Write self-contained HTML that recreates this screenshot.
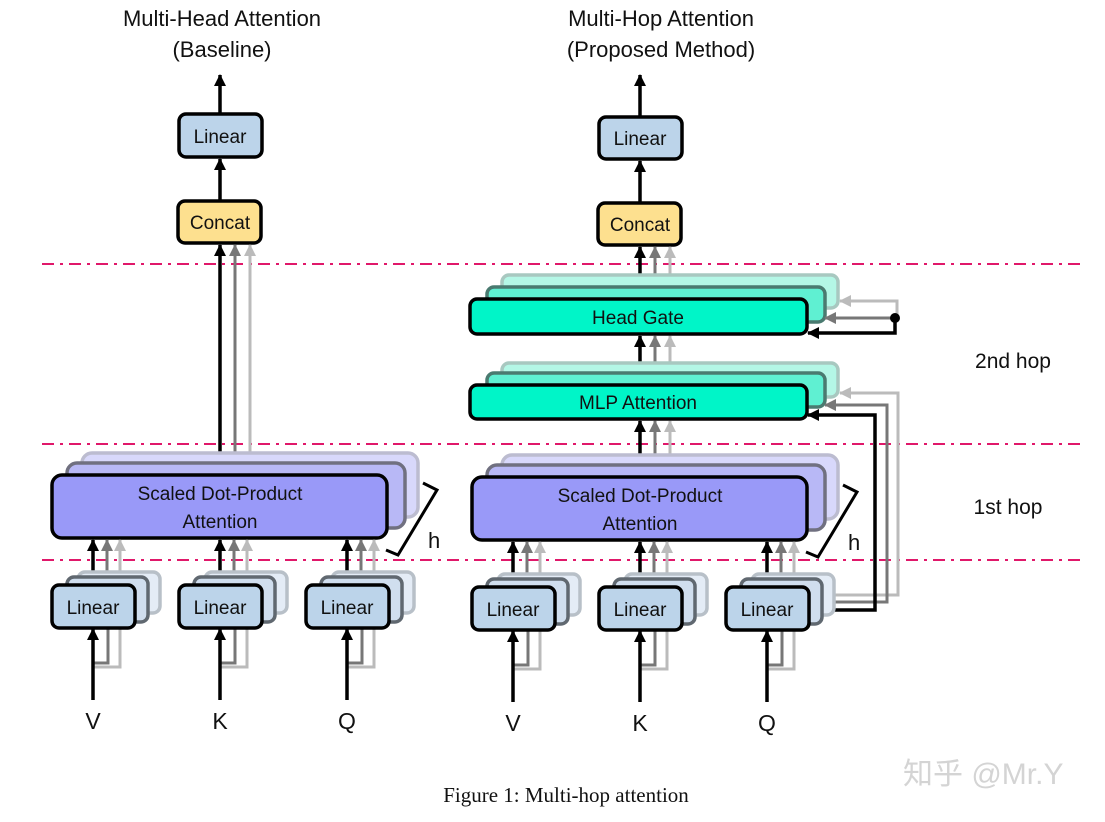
<!DOCTYPE html>
<html><head><meta charset="utf-8"><style>
html,body{margin:0;padding:0;background:#fff;}
svg{display:block;}
text{font-family:"Liberation Sans",sans-serif;fill:#111;}
</style></head><body>
<svg width="1105" height="822" viewBox="0 0 1105 822" xmlns="http://www.w3.org/2000/svg">
<defs>
<marker id="ab" markerWidth="12" markerHeight="12" refX="11" refY="6" orient="auto" markerUnits="userSpaceOnUse" viewBox="0 0 12 12"><path d="M0,0 L12,6 L0,12 Z" fill="#000"/></marker>
<marker id="ad" markerWidth="12" markerHeight="12" refX="11" refY="6" orient="auto" markerUnits="userSpaceOnUse" viewBox="0 0 12 12"><path d="M0,0 L12,6 L0,12 Z" fill="#777"/></marker>
<marker id="al" markerWidth="12" markerHeight="12" refX="11" refY="6" orient="auto" markerUnits="userSpaceOnUse" viewBox="0 0 12 12"><path d="M0,0 L12,6 L0,12 Z" fill="#bbb"/></marker>
</defs>

<text x="222" y="26" font-size="22" text-anchor="middle">Multi-Head Attention</text>
<text x="222" y="57" font-size="22" text-anchor="middle">(Baseline)</text>
<text x="661" y="26" font-size="22" text-anchor="middle">Multi-Hop Attention</text>
<text x="661" y="57" font-size="22" text-anchor="middle">(Proposed Method)</text>

<g stroke="#e0186a" stroke-width="2" stroke-dasharray="12,6,3,6">
<line x1="42" y1="264" x2="1085" y2="264"/>
<line x1="42" y1="444" x2="1085" y2="444"/>
<line x1="42" y1="560" x2="1085" y2="560"/>
</g>

<g stroke-width="3.5" fill="none">
<line x1="220" y1="114" x2="220" y2="75" stroke="#000" marker-end="url(#ab)"/>
<line x1="220" y1="201" x2="220" y2="159" stroke="#000" marker-end="url(#ab)"/>
<line x1="640" y1="117" x2="640" y2="75" stroke="#000" marker-end="url(#ab)"/>
<line x1="640" y1="203" x2="640" y2="161" stroke="#000" marker-end="url(#ab)"/>
</g>
<g stroke="#000" stroke-width="3.5">
<rect x="179" y="114" width="83" height="43" rx="7" fill="#bcd4ea"/>
<rect x="178" y="201" width="83" height="42" rx="7" fill="#fde08f"/>
<rect x="599" y="117" width="83" height="42" rx="7" fill="#bcd4ea"/>
<rect x="598" y="203" width="83" height="42" rx="7" fill="#fde08f"/>
</g>
<text x="220" y="143" font-size="19" text-anchor="middle">Linear</text>
<text x="220" y="229" font-size="19" text-anchor="middle">Concat</text>
<text x="640" y="145" font-size="19" text-anchor="middle">Linear</text>
<text x="640" y="231" font-size="19" text-anchor="middle">Concat</text>

<g stroke-width="3" fill="none">
<line x1="250" y1="453" x2="250" y2="245" stroke="#bbb" marker-end="url(#al)"/>
<line x1="235" y1="463" x2="235" y2="245" stroke="#777" marker-end="url(#ad)"/>
<line x1="220" y1="475" x2="220" y2="245" stroke="#000" stroke-width="3.5" marker-end="url(#ab)"/>
</g>
<rect x="82" y="453" width="336" height="64" rx="10" fill="#d8d8fb" stroke="#bcbcd0" stroke-width="3.5"/>
<rect x="67" y="463" width="338" height="65" rx="10" fill="#b8b8f6" stroke="#707080" stroke-width="3.5"/>
<rect x="52" y="475" width="335" height="63" rx="10" fill="#9999f8" stroke="#000" stroke-width="3.5"/>
<text x="220" y="500" font-size="19" text-anchor="middle">Scaled Dot-Product</text>
<text x="220" y="528" font-size="19" text-anchor="middle">Attention</text>
<polyline points="423,483 437,490 398,555 386,550" fill="none" stroke="#000" stroke-width="3"/>
<text x="428" y="548" font-size="22">h</text>

<g stroke-width="3" fill="none">
<line x1="670" y1="275" x2="670" y2="247" stroke="#bbb" marker-end="url(#al)"/>
<line x1="655" y1="287" x2="655" y2="247" stroke="#777" marker-end="url(#ad)"/>
<line x1="640" y1="299" x2="640" y2="247" stroke="#000" stroke-width="3.5" marker-end="url(#ab)"/>
<line x1="670" y1="363" x2="670" y2="336" stroke="#bbb" marker-end="url(#al)"/>
<line x1="655" y1="373" x2="655" y2="336" stroke="#777" marker-end="url(#ad)"/>
<line x1="640" y1="385" x2="640" y2="336" stroke="#000" stroke-width="3.5" marker-end="url(#ab)"/>
<line x1="670" y1="455" x2="670" y2="421" stroke="#bbb" marker-end="url(#al)"/>
<line x1="655" y1="465" x2="655" y2="421" stroke="#777" marker-end="url(#ad)"/>
<line x1="640" y1="477" x2="640" y2="421" stroke="#000" stroke-width="3.5" marker-end="url(#ab)"/>
</g>
<rect x="502" y="275" width="336" height="33" rx="7" fill="#b4f7e6" stroke="#a8c8c0" stroke-width="3.5"/>
<rect x="487" y="287" width="338" height="35" rx="7" fill="#5ff0d2" stroke="#4a7a70" stroke-width="3.5"/>
<rect x="470" y="299" width="337" height="35" rx="7" fill="#00f5c8" stroke="#000" stroke-width="3.5"/>
<text x="638" y="324" font-size="19" text-anchor="middle">Head Gate</text>
<rect x="502" y="363" width="336" height="34" rx="7" fill="#b4f7e6" stroke="#a8c8c0" stroke-width="3.5"/>
<rect x="487" y="373" width="338" height="34" rx="7" fill="#5ff0d2" stroke="#4a7a70" stroke-width="3.5"/>
<rect x="470" y="385" width="337" height="34" rx="7" fill="#00f5c8" stroke="#000" stroke-width="3.5"/>
<text x="638" y="409" font-size="19" text-anchor="middle">MLP Attention</text>

<rect x="502" y="455" width="336" height="64" rx="10" fill="#d8d8fb" stroke="#bcbcd0" stroke-width="3.5"/>
<rect x="487" y="465" width="338" height="65" rx="10" fill="#b8b8f6" stroke="#707080" stroke-width="3.5"/>
<rect x="472" y="477" width="335" height="63" rx="10" fill="#9999f8" stroke="#000" stroke-width="3.5"/>
<text x="640" y="502" font-size="19" text-anchor="middle">Scaled Dot-Product</text>
<text x="640" y="530" font-size="19" text-anchor="middle">Attention</text>
<polyline points="843,485 857,492 818,557 806,552" fill="none" stroke="#000" stroke-width="3"/>
<text x="848" y="550" font-size="22">h</text>

<g stroke-width="3" fill="none">
<polyline points="820,595 898,595 898,393 840,393" stroke="#bbb" marker-end="url(#al)"/>
<polyline points="820,602 887,602 887,405 825,405" stroke="#777" marker-end="url(#ad)"/>
<polyline points="808,610 875,610 875,415 808,415" stroke="#000" stroke-width="3.5" marker-end="url(#ab)"/>
<polyline points="897,318 897,301 840,301" stroke="#bbb" marker-end="url(#al)"/>
<polyline points="895,318 825,318" stroke="#777" marker-end="url(#ad)"/>
<polyline points="895,318 895,333 808,333" stroke="#000" stroke-width="3.5" marker-end="url(#ab)"/>
</g>
<circle cx="895" cy="318" r="5" fill="#000"/>

<g stroke-width="3" fill="none">
<polyline points="93,663 108,663 108,622" stroke="#777"/><polyline points="93,667 120,667 120,614" stroke="#bbb"/>
<polyline points="220,663 235,663 235,622" stroke="#777"/><polyline points="220,667 247,667 247,614" stroke="#bbb"/>
<polyline points="347,663 362,663 362,622" stroke="#777"/><polyline points="347,667 374,667 374,614" stroke="#bbb"/>
<polyline points="513,665 528,665 528,624" stroke="#777"/><polyline points="513,669 540,669 540,616" stroke="#bbb"/>
<polyline points="640,665 655,665 655,624" stroke="#777"/><polyline points="640,669 667,669 667,616" stroke="#bbb"/>
<polyline points="767,665 782,665 782,624" stroke="#777"/><polyline points="767,669 794,669 794,616" stroke="#bbb"/>
<g stroke="#000" stroke-width="3.5">
<line x1="93" y1="700" x2="93" y2="629" marker-end="url(#ab)"/>
<line x1="220" y1="700" x2="220" y2="629" marker-end="url(#ab)"/>
<line x1="347" y1="700" x2="347" y2="629" marker-end="url(#ab)"/>
<line x1="513" y1="702" x2="513" y2="631" marker-end="url(#ab)"/>
<line x1="640" y1="702" x2="640" y2="631" marker-end="url(#ab)"/>
<line x1="767" y1="702" x2="767" y2="631" marker-end="url(#ab)"/>
</g>
<line x1="120" y1="572" x2="120" y2="540" stroke="#bbb" marker-end="url(#al)"/><line x1="107" y1="577" x2="107" y2="540" stroke="#777" marker-end="url(#ad)"/><line x1="93" y1="585" x2="93" y2="540" stroke="#000" stroke-width="3.5" marker-end="url(#ab)"/>
<line x1="247" y1="572" x2="247" y2="540" stroke="#bbb" marker-end="url(#al)"/><line x1="234" y1="577" x2="234" y2="540" stroke="#777" marker-end="url(#ad)"/><line x1="220" y1="585" x2="220" y2="540" stroke="#000" stroke-width="3.5" marker-end="url(#ab)"/>
<line x1="374" y1="572" x2="374" y2="540" stroke="#bbb" marker-end="url(#al)"/><line x1="361" y1="577" x2="361" y2="540" stroke="#777" marker-end="url(#ad)"/><line x1="347" y1="585" x2="347" y2="540" stroke="#000" stroke-width="3.5" marker-end="url(#ab)"/>
<line x1="540" y1="574" x2="540" y2="542" stroke="#bbb" marker-end="url(#al)"/><line x1="527" y1="579" x2="527" y2="542" stroke="#777" marker-end="url(#ad)"/><line x1="513" y1="587" x2="513" y2="542" stroke="#000" stroke-width="3.5" marker-end="url(#ab)"/>
<line x1="667" y1="574" x2="667" y2="542" stroke="#bbb" marker-end="url(#al)"/><line x1="654" y1="579" x2="654" y2="542" stroke="#777" marker-end="url(#ad)"/><line x1="640" y1="587" x2="640" y2="542" stroke="#000" stroke-width="3.5" marker-end="url(#ab)"/>
<line x1="794" y1="574" x2="794" y2="542" stroke="#bbb" marker-end="url(#al)"/><line x1="781" y1="579" x2="781" y2="542" stroke="#777" marker-end="url(#ad)"/><line x1="767" y1="587" x2="767" y2="542" stroke="#000" stroke-width="3.5" marker-end="url(#ab)"/>
</g>

<g stroke-width="3.5">
<rect x="78" y="572" width="82" height="41" rx="7" fill="#e4ecf6" stroke="#b8c0c8"/>
<rect x="67" y="577" width="81" height="45" rx="7" fill="#d0deee" stroke="#606870"/>
<rect x="52" y="585" width="83" height="43" rx="7" fill="#bcd4ea" stroke="#000"/>
<rect x="205" y="572" width="82" height="41" rx="7" fill="#e4ecf6" stroke="#b8c0c8"/>
<rect x="194" y="577" width="81" height="45" rx="7" fill="#d0deee" stroke="#606870"/>
<rect x="179" y="585" width="83" height="43" rx="7" fill="#bcd4ea" stroke="#000"/>
<rect x="332" y="572" width="82" height="41" rx="7" fill="#e4ecf6" stroke="#b8c0c8"/>
<rect x="321" y="577" width="81" height="45" rx="7" fill="#d0deee" stroke="#606870"/>
<rect x="306" y="585" width="83" height="43" rx="7" fill="#bcd4ea" stroke="#000"/>
<rect x="498" y="574" width="82" height="41" rx="7" fill="#e4ecf6" stroke="#b8c0c8"/>
<rect x="487" y="579" width="81" height="45" rx="7" fill="#d0deee" stroke="#606870"/>
<rect x="472" y="587" width="83" height="43" rx="7" fill="#bcd4ea" stroke="#000"/>
<rect x="625" y="574" width="82" height="41" rx="7" fill="#e4ecf6" stroke="#b8c0c8"/>
<rect x="614" y="579" width="81" height="45" rx="7" fill="#d0deee" stroke="#606870"/>
<rect x="599" y="587" width="83" height="43" rx="7" fill="#bcd4ea" stroke="#000"/>
<rect x="752" y="574" width="82" height="41" rx="7" fill="#e4ecf6" stroke="#b8c0c8"/>
<rect x="741" y="579" width="81" height="45" rx="7" fill="#d0deee" stroke="#606870"/>
<rect x="726" y="587" width="83" height="43" rx="7" fill="#bcd4ea" stroke="#000"/>
</g>
<g font-size="19" text-anchor="middle">
<text x="93" y="614">Linear</text><text x="220" y="614">Linear</text><text x="347" y="614">Linear</text>
<text x="513" y="616">Linear</text><text x="640" y="616">Linear</text><text x="767" y="616">Linear</text>
</g>
<g font-size="23" text-anchor="middle">
<text x="93" y="729">V</text><text x="220" y="729">K</text><text x="347" y="729">Q</text>
<text x="513" y="731">V</text><text x="640" y="731">K</text><text x="767" y="731">Q</text>
</g>
<text x="1013" y="368" font-size="21" text-anchor="middle">2nd hop</text>
<text x="1008" y="514" font-size="21" text-anchor="middle">1st hop</text>
<text x="566" y="802" font-size="21" text-anchor="middle" style="font-family:'Liberation Serif',serif">Figure 1: Multi-hop attention</text>
<text x="903" y="784" font-size="30" style="font-family:'Liberation Sans','Noto Sans CJK SC',sans-serif;fill:#d4d4d4">知乎 @Mr.Y</text>
</svg>
</body></html>
